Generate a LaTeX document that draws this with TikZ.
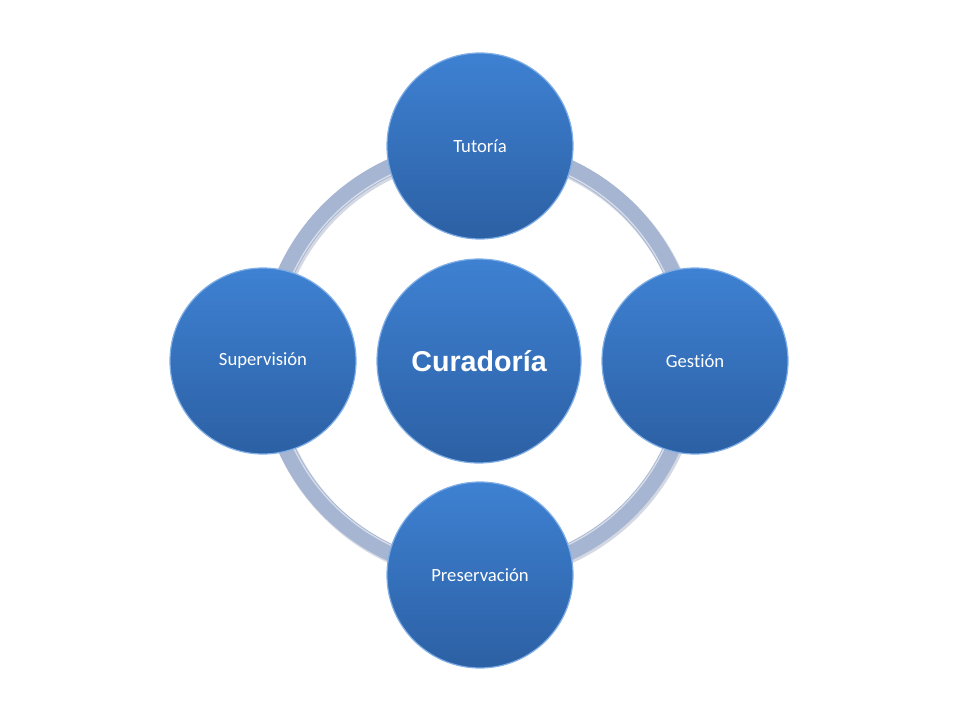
\documentclass[tikz,border=0pt]{standalone}
\usepackage{fontspec}
\setmainfont{Carlito}[Ligatures=NoCommon]
\newfontfamily\headfont{Liberation Sans}
\usepackage{tikz}
\usepackage{xcolor}

\definecolor{ballTop}{HTML}{3E81D2}
\definecolor{ballBot}{HTML}{2C60A4}
\definecolor{ballRim}{HTML}{7FAEE6}
\definecolor{ringGray}{HTML}{A6B5D1}
\definecolor{ringShade}{HTML}{8391AD}

\tikzset{
  ball/.style={circle,minimum size=139.5pt,inner sep=0pt,top color=ballTop,bottom color=ballBot,draw=ballRim,line width=0.9pt,text=white,font=\fontsize{14}{17}\selectfont},
  hub/.style={ball,minimum size=153pt,font=\headfont\bfseries\fontsize{21.5}{25}\selectfont}
}

\begin{document}
\begin{tikzpicture}[x=0.75pt,y=0.75pt,yscale=-1,xscale=1]

\useasboundingbox (0,0) rectangle (960,720);
\fill[white] (0,0) rectangle (960,720);

\coordinate (mid) at (479,360);

\draw[ringShade, line width=13.5pt, opacity=0.35] (mid) ++(1.5,2) circle [radius=159pt];
\draw[ringGray, line width=12.75pt] (mid) circle [radius=159pt];
\draw[white, line width=1pt, opacity=0.55] (mid) circle [radius=153.8pt];


\draw (479,361) node (curadoria) [hub] {Curadoría};

\draw (480,146) node (tutoria) [ball] {Tutoría};

\draw (695,361) node (gestion) [ball] {Gestión};

\draw (480,575) node (preservacion) [ball] {Preservación};

\draw (263,361) node (supervision) [ball] {Supervisión};


\end{tikzpicture}
\end{document}
